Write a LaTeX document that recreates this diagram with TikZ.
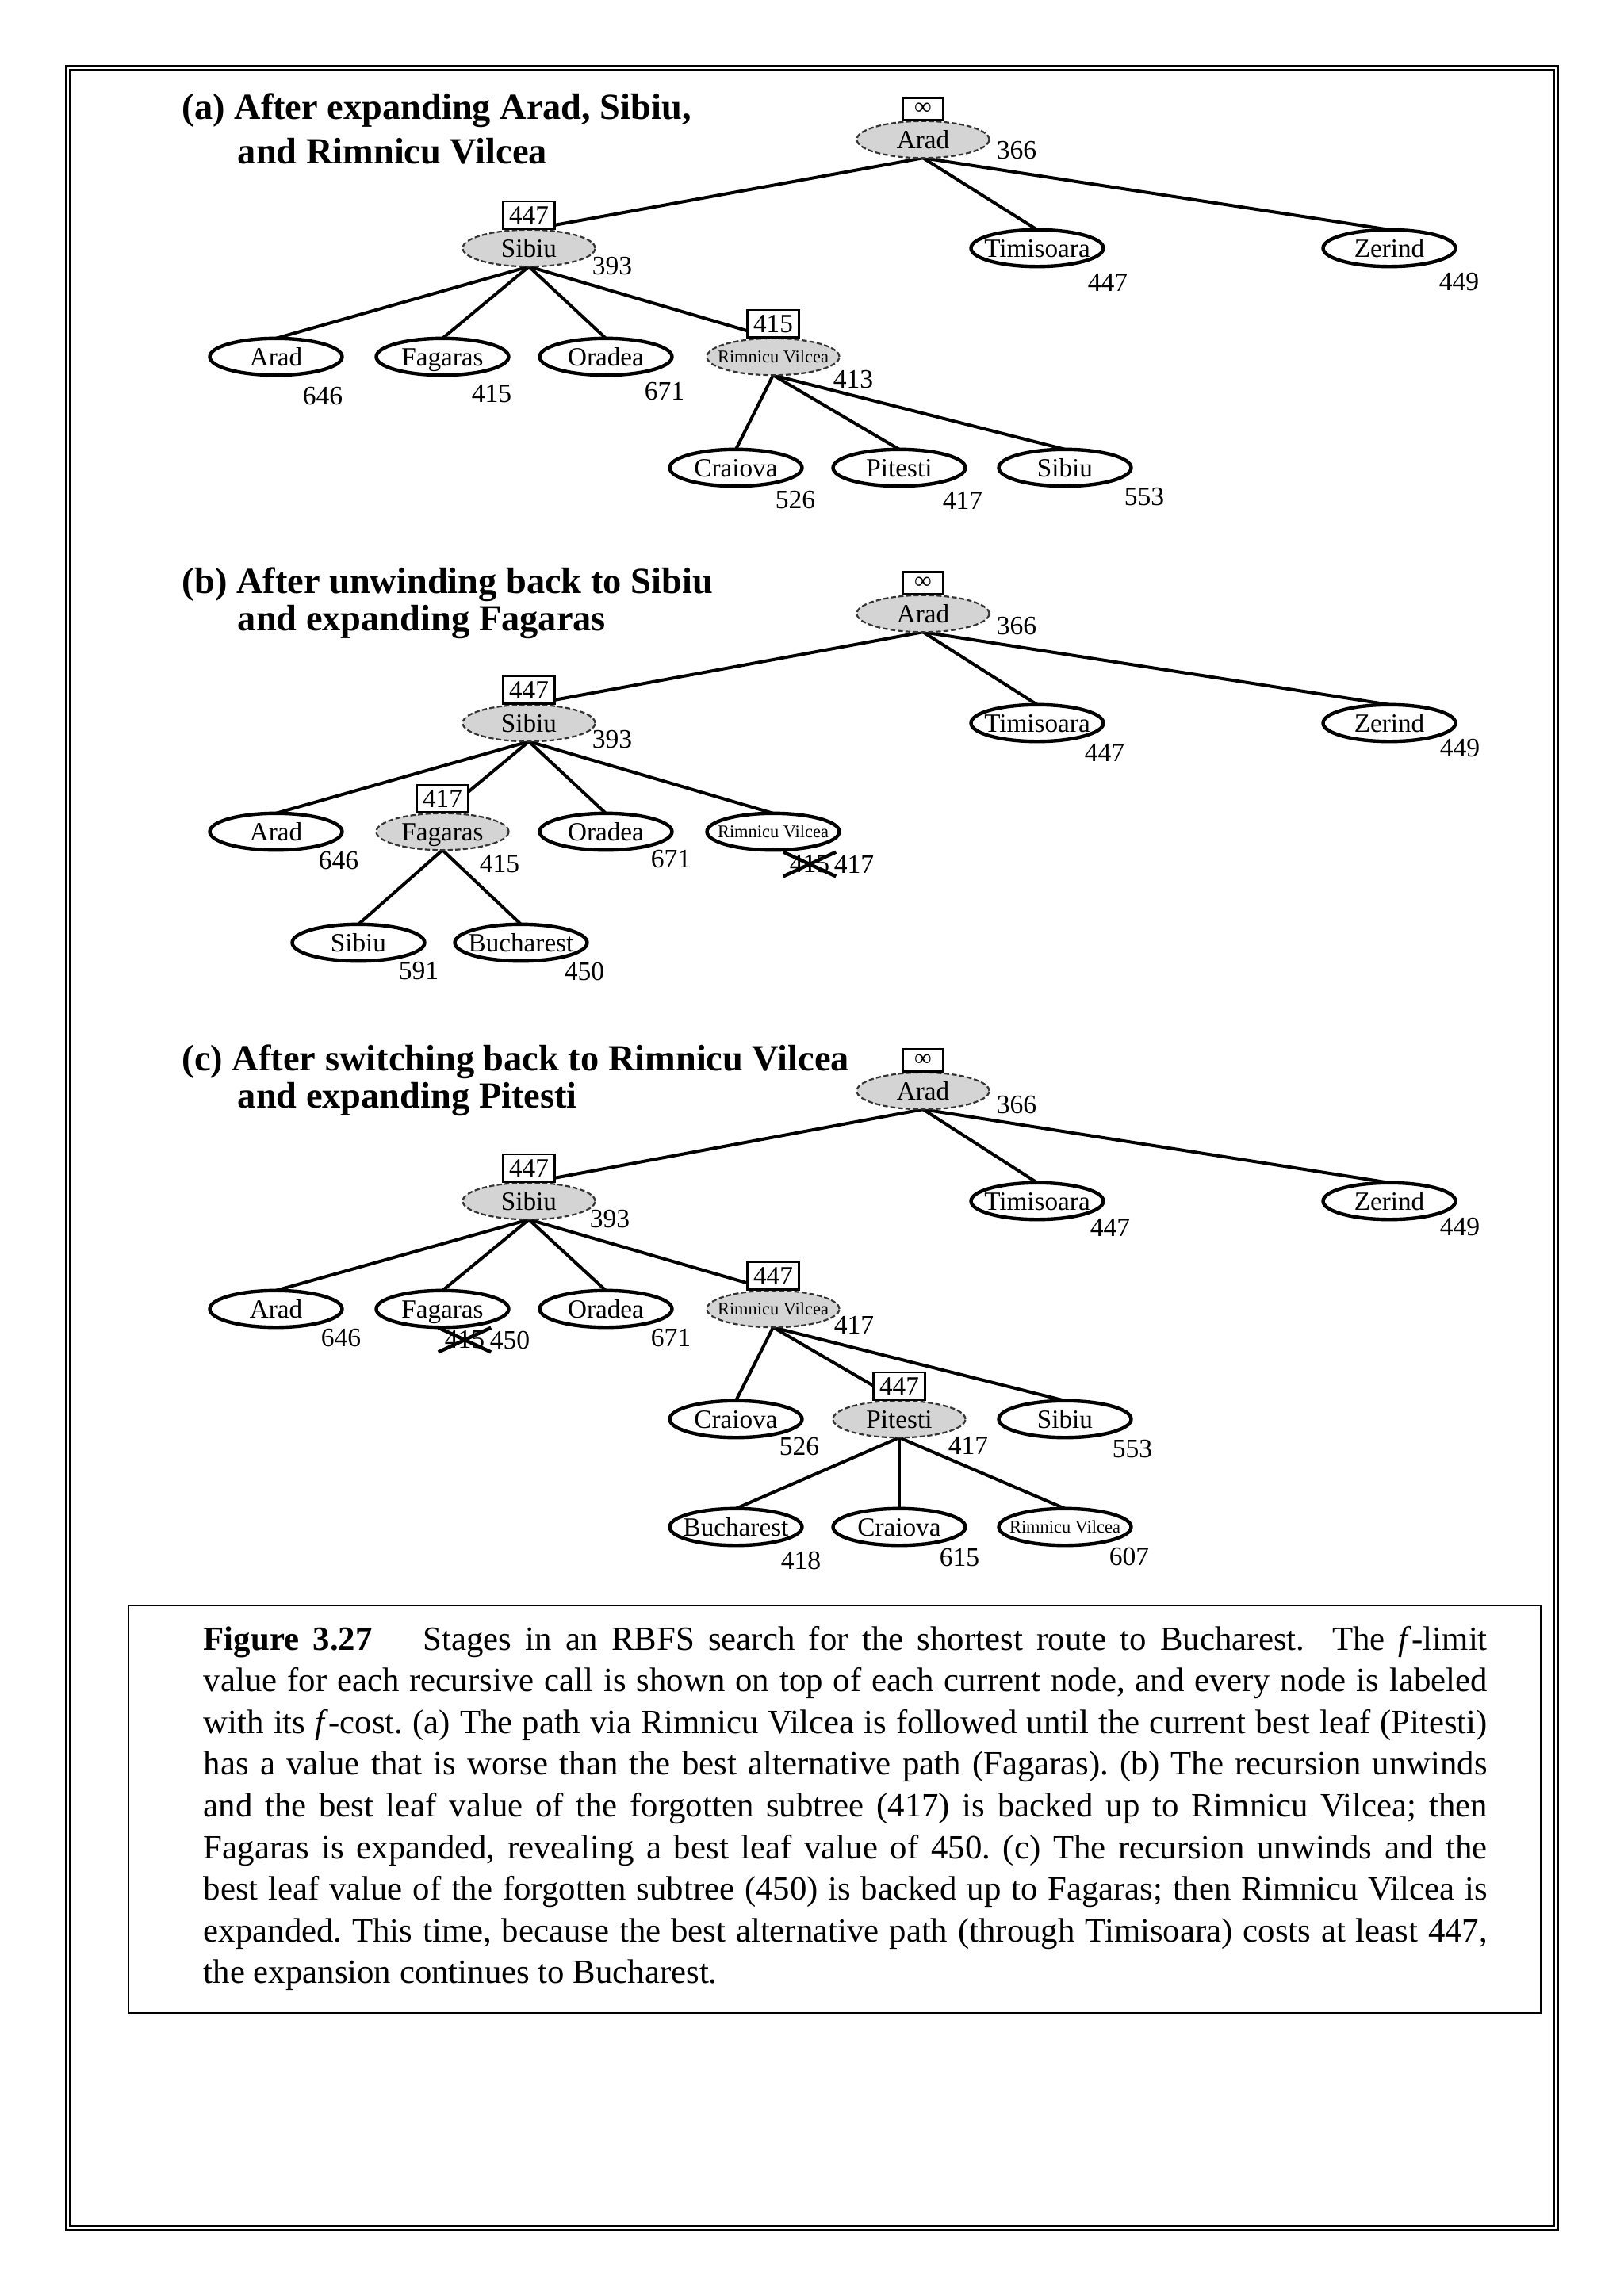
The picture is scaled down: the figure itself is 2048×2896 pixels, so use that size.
\documentclass[tikz,border=0pt]{standalone}
\usepackage{fontspec}
\setmainfont{Liberation Serif}
\usetikzlibrary{shapes.geometric}
\pgfdeclarelayer{bg}
\pgfsetlayers{bg,main}
\definecolor{shade}{gray}{0.83}
\newcommand\citynm[1]{\makebox[0pt]{#1}}
\tikzset{
  city/.style={ellipse, draw=black, line width=1.1pt, minimum width=41.75pt, minimum height=11.6pt,
    inner sep=0pt, outer sep=0pt, font=\fontsize{8.3}{10}\selectfont, text height=5.5pt, text depth=0pt},
  cur/.style={city, fill=shade, draw=black!80, line width=0.55pt, dash pattern=on 1.6pt off 0.8pt},
  small/.style={font=\fontsize{5.6}{7}\selectfont, text height=3.7pt},
  lim/.style={rectangle, draw=black, line width=0.7pt, fill=white, minimum width=16.25pt, minimum height=8.6pt,
    inner sep=0pt, anchor=south, font=\fontsize{8.3}{10}\selectfont, text height=5.6pt, text depth=0pt},
  inflim/.style={rectangle, draw=black, line width=0.7pt, fill=white, minimum width=12.5pt, minimum height=7pt,
    inner sep=0pt, anchor=south, font=\fontsize{7.6}{8}\selectfont},
  num/.style={font=\fontsize{8.4}{10}\selectfont, inner sep=0pt},
  edge/.style={line width=1pt},
  cross/.style={line width=1.1pt, shorten >=-2pt, shorten <=-2pt},
  ttl/.style={font=\fontsize{11.6}{14}\selectfont\bfseries, anchor=base west, inner sep=0pt},
  capl/.style={font=\fontsize{10.7}{13}\selectfont\frenchspacing, anchor=base west, inner sep=0pt},
}
\begin{document}
\begin{tikzpicture}[x=0.25pt,y=-0.25pt]
\useasboundingbox (0,0) rectangle (2048,2896);
% frame
\draw[line width=0.55pt] (83,83) rectangle (1965,2813);
\draw[line width=0.55pt] (88,88) rectangle (1960,2808);

% ================= (a)
\node[ttl] (a-t1) at (229,150) {(a) After expanding Arad, Sibiu,};
\node[ttl] (a-t2) at (299,206) {and Rimnicu Vilcea};
\node[cur] (a-root) at (1164,176) {\citynm{Arad}};
\node[cur] (a-sib) at (667,313) {\citynm{Sibiu}};
\node[city] (a-tim) at (1308,313) {\citynm{Timisoara}};
\node[city] (a-zer) at (1752,313) {\citynm{Zerind}};
\node[city] (a-ara) at (348,450) {\citynm{Arad}};
\node[city] (a-fag) at (558,450) {\citynm{Fagaras}};
\node[city] (a-ora) at (764,450) {\citynm{Oradea}};
\node[cur,small] (a-rv) at (975,450) {\citynm{Rimnicu Vilcea}};
\node[city] (a-cra) at (928,590) {\citynm{Craiova}};
\node[city] (a-pit) at (1134,590) {\citynm{Pitesti}};
\node[city] (a-sib3) at (1343,590) {\citynm{Sibiu}};
\node[inflim] (a-lroot) at (a-root.north) {∞};
\node[lim] (a-lsib) at (a-sib.north) {447};
\node[lim] (a-lrv) at (a-rv.north) {415};
\node[num] (a-n1) at (1282,190) {366};
\node[num] (a-n2) at (772,336) {393};
\node[num] (a-n3) at (1397,356) {447};
\node[num] (a-n4) at (1840,356) {449};
\node[num] (a-n5) at (407,500) {646};
\node[num] (a-n6) at (620,497) {415};
\node[num] (a-n7) at (838,494) {671};
\node[num] (a-n8) at (1076,479) {413};
\node[num] (a-n9) at (1003,631) {526};
\node[num] (a-n10) at (1214,631) {417};
\node[num] (a-n11) at (1443,627) {553};
\begin{pgfonlayer}{bg}
\draw[edge] (a-root.south) -- (a-sib.north);
\draw[edge] (a-root.south) -- (a-tim.north);
\draw[edge] (a-root.south) -- (a-zer.north);
\draw[edge] (a-sib.south) -- (a-ara.north);
\draw[edge] (a-sib.south) -- (a-fag.north);
\draw[edge] (a-sib.south) -- (a-ora.north);
\draw[edge] (a-sib.south) -- (a-rv.north);
\draw[edge] (a-rv.south) -- (a-cra.north);
\draw[edge] (a-rv.south) -- (a-pit.north);
\draw[edge] (a-rv.south) -- (a-sib3.north);
\end{pgfonlayer}

% ================= (b)
\node[ttl] (b-t1) at (229,748) {(b) After unwinding back to Sibiu};
\node[ttl] (b-t2) at (299,795) {and expanding Fagaras};
\node[cur] (b-root) at (1164,774) {\citynm{Arad}};
\node[cur] (b-sib) at (667,912) {\citynm{Sibiu}};
\node[city] (b-tim) at (1308,912) {\citynm{Timisoara}};
\node[city] (b-zer) at (1752,912) {\citynm{Zerind}};
\node[city] (b-ara) at (348,1049) {\citynm{Arad}};
\node[cur] (b-fag) at (558,1049) {\citynm{Fagaras}};
\node[city] (b-ora) at (764,1049) {\citynm{Oradea}};
\node[city,small] (b-rv) at (975,1049) {\citynm{Rimnicu Vilcea}};
\node[city] (b-sib3) at (452,1189) {\citynm{Sibiu}};
\node[city] (b-buc) at (657,1189) {\citynm{Bucharest}};
\node[inflim] (b-lroot) at (b-root.north) {∞};
\node[lim] (b-lsib) at (b-sib.north) {447};
\node[lim] (b-lfag) at (b-fag.north) {417};
\node[num] (b-n1) at (1282,790) {366};
\node[num] (b-n2) at (772,933) {393};
\node[num] (b-n3) at (1393,949) {447};
\node[num] (b-n4) at (1841,944) {449};
\node[num] (b-n5) at (427,1086) {646};
\node[num] (b-n6) at (630,1090) {415};
\node[num] (b-n7) at (846,1084) {671};
\node[num] (b-n8) at (1021,1090) {415};
\node[num] (b-n9) at (1077,1090) {417};
\node[num] (b-n10) at (528,1225) {591};
\node[num] (b-n11) at (737,1225) {450};
\draw[cross] (b-n8.south west) -- (b-n8.north east);
\draw[cross] (b-n8.north west) -- (b-n8.south east);
\begin{pgfonlayer}{bg}
\draw[edge] (b-root.south) -- (b-sib.north);
\draw[edge] (b-root.south) -- (b-tim.north);
\draw[edge] (b-root.south) -- (b-zer.north);
\draw[edge] (b-sib.south) -- (b-ara.north);
\draw[edge] (b-sib.south) -- (b-fag.north);
\draw[edge] (b-sib.south) -- (b-ora.north);
\draw[edge] (b-sib.south) -- (b-rv.north);
\draw[edge] (b-fag.south) -- (b-sib3.north);
\draw[edge] (b-fag.south) -- (b-buc.north);
\end{pgfonlayer}

% ================= (c)
\node[ttl] (c-t1) at (229,1350) {(c) After switching back to Rimnicu Vilcea};
\node[ttl] (c-t2) at (299,1397) {and expanding Pitesti};
\node[cur] (c-root) at (1164,1376) {\citynm{Arad}};
\node[cur] (c-sib) at (667,1515) {\citynm{Sibiu}};
\node[city] (c-tim) at (1308,1515) {\citynm{Timisoara}};
\node[city] (c-zer) at (1752,1515) {\citynm{Zerind}};
\node[city] (c-ara) at (348,1651) {\citynm{Arad}};
\node[city] (c-fag) at (558,1651) {\citynm{Fagaras}};
\node[city] (c-ora) at (764,1651) {\citynm{Oradea}};
\node[cur,small] (c-rv) at (975,1651) {\citynm{Rimnicu Vilcea}};
\node[city] (c-cra) at (928,1790) {\citynm{Craiova}};
\node[cur] (c-pit) at (1134,1790) {\citynm{Pitesti}};
\node[city] (c-sib3) at (1343,1790) {\citynm{Sibiu}};
\node[city] (c-buc) at (928,1926) {\citynm{Bucharest}};
\node[city] (c-cra4) at (1134,1926) {\citynm{Craiova}};
\node[city,small] (c-rv4) at (1343,1926) {\citynm{Rimnicu Vilcea}};
\node[inflim] (c-lroot) at (c-root.north) {∞};
\node[lim] (c-lsib) at (c-sib.north) {447};
\node[lim] (c-lrv) at (c-rv.north) {447};
\node[lim] (c-lpit) at (c-pit.north) {447};
\node[num] (c-n1) at (1282,1394) {366};
\node[num] (c-n2) at (769,1538) {393};
\node[num] (c-n3) at (1400,1548) {447};
\node[num] (c-n4) at (1841,1548) {449};
\node[num] (c-n5) at (430,1688) {646};
\node[num] (c-n6) at (586,1690) {415};
\node[num] (c-n7) at (643,1690) {450};
\node[num] (c-n8) at (846,1688) {671};
\node[num] (c-n9) at (1077,1671) {417};
\node[num] (c-n10) at (1008,1825) {526};
\node[num] (c-n11) at (1221,1823) {417};
\node[num] (c-n12) at (1428,1828) {553};
\node[num] (c-n13) at (1010,1968) {418};
\node[num] (c-n14) at (1210,1965) {615};
\node[num] (c-n15) at (1424,1963) {607};
\draw[cross] (c-n6.south west) -- (c-n6.north east);
\draw[cross] (c-n6.north west) -- (c-n6.south east);
\begin{pgfonlayer}{bg}
\draw[edge] (c-root.south) -- (c-sib.north);
\draw[edge] (c-root.south) -- (c-tim.north);
\draw[edge] (c-root.south) -- (c-zer.north);
\draw[edge] (c-sib.south) -- (c-ara.north);
\draw[edge] (c-sib.south) -- (c-fag.north);
\draw[edge] (c-sib.south) -- (c-ora.north);
\draw[edge] (c-sib.south) -- (c-rv.north);
\draw[edge] (c-rv.south) -- (c-cra.north);
\draw[edge] (c-rv.south) -- (c-pit.north);
\draw[edge] (c-rv.south) -- (c-sib3.north);
\draw[edge] (c-pit.south) -- (c-buc.north);
\draw[edge] (c-pit.south) -- (c-cra4.north);
\draw[edge] (c-pit.south) -- (c-rv4.north);
\end{pgfonlayer}

% ================= caption
\draw[line width=0.6pt] (162,2025) rectangle (1943,2539);
\node[capl] (cap1) at (256,2081) {\makebox[404.75pt][s]{\textbf{Figure 3.27}\hspace{1.5em}Stages in an RBFS search for the shortest route to Bucharest.\ \ The \textit{f}-limit}};
\node[capl] (cap2) at (256,2133.6) {\makebox[404.75pt][s]{value for each recursive call is shown on top of each current node, and every node is labeled}};
\node[capl] (cap3) at (256,2186.2) {\makebox[404.75pt][s]{with its \textit{f}-cost. (a) The path via Rimnicu Vilcea is followed until the current best leaf (Pitesti)}};
\node[capl] (cap4) at (256,2238.8) {\makebox[404.75pt][s]{has a value that is worse than the best alternative path (Fagaras). (b) The recursion unwinds}};
\node[capl] (cap5) at (256,2291.4) {\makebox[404.75pt][s]{and the best leaf value of the forgotten subtree (417) is backed up to Rimnicu Vilcea; then}};
\node[capl] (cap6) at (256,2344) {\makebox[404.75pt][s]{Fagaras is expanded, revealing a best leaf value of 450. (c) The recursion unwinds and the}};
\node[capl] (cap7) at (256,2396.6) {\makebox[404.75pt][s]{best leaf value of the forgotten subtree (450) is backed up to Fagaras; then Rimnicu Vilcea is}};
\node[capl] (cap8) at (256,2449.2) {\makebox[404.75pt][s]{expanded. This time, because the best alternative path (through Timisoara) costs at least 447,}};
\node[capl] (cap9) at (256,2501.8) {the expansion continues to Bucharest.};
\end{tikzpicture}
\end{document}
